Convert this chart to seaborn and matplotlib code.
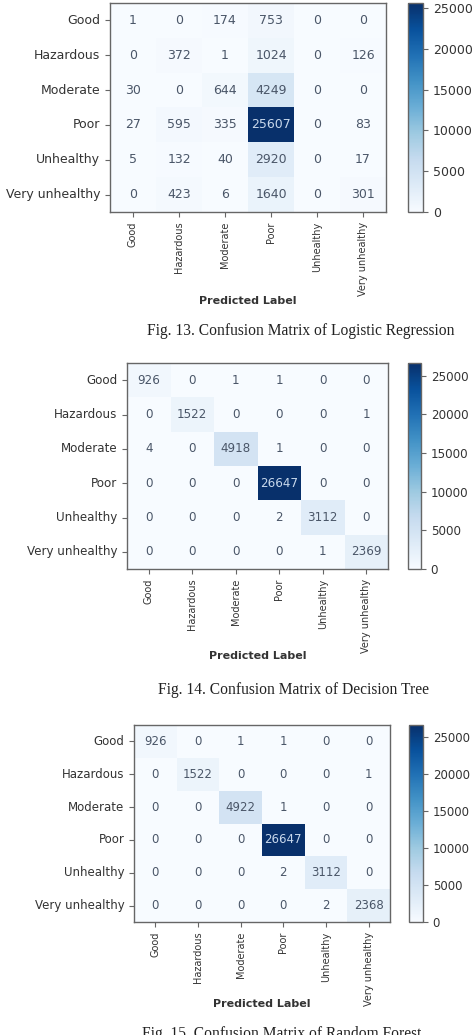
import numpy as np
import pandas as pd
import matplotlib
matplotlib.use("Agg")
import matplotlib.pyplot as plt
import seaborn as sns

LABELS = ['Good', 'Hazardous', 'Moderate', 'Poor', 'Unhealthy', 'Very unhealthy']

# confusion matrices (rows = true label, cols = predicted label)
CM_LOGREG = [
    [1, 0, 174, 753, 0, 0],
    [0, 372, 1, 1024, 0, 126],
    [30, 0, 644, 4249, 0, 0],
    [27, 595, 335, 25607, 0, 83],
    [5, 132, 40, 2920, 0, 17],
    [0, 423, 6, 1640, 0, 301],
]
CM_TREE = [
    [926, 0, 1, 1, 0, 0],
    [0, 1522, 0, 0, 0, 1],
    [4, 0, 4918, 1, 0, 0],
    [0, 0, 0, 26647, 0, 0],
    [0, 0, 0, 2, 3112, 0],
    [0, 0, 0, 0, 1, 2369],
]
CM_FOREST = [
    [926, 0, 1, 1, 0, 0],
    [0, 1522, 0, 0, 0, 1],
    [0, 0, 4922, 1, 0, 0],
    [0, 0, 0, 26647, 0, 0],
    [0, 0, 0, 2, 3112, 0],
    [0, 0, 0, 0, 2, 2368],
]
CAPTIONS = [
    'Fig. 13. Confusion Matrix of Logistic Regression',
    'Fig. 14. Confusion Matrix of Decision Tree',
    'Fig. 15. Confusion Matrix of Random Forest',
]

W, H = 474, 1035

# pixel boxes: heatmap (left, top, right, bottom), colorbar (left, right), label y, caption (x, y, va)
PANELS = [
    dict(cm=CM_LOGREG, hm=(110, 3, 386, 212), cb=(408, 423), lab_y=301, cap=(301, 331, 'center'), fs=9.0),
    dict(cm=CM_TREE, hm=(127, 363, 388, 569), cb=(408, 421), lab_y=656, cap=(293, 690, 'center'), fs=8.6),
    dict(cm=CM_FOREST, hm=(134, 725, 390, 922), cb=(409, 423), lab_y=1004, cap=(282, 1026, 'top'), fs=8.5),
]

TXT = '#333333'
EDGE = '#666666'


def box(l, t, r, b):
    return [l / W, 1 - b / H, (r - l) / W, (b - t) / H]


fig = plt.figure(figsize=(W / 100, H / 100), dpi=100)

for p, caption in zip(PANELS, CAPTIONS):
    l, t, r, b = p['hm']
    fs = p['fs']
    ax = fig.add_axes(box(l, t, r, b))
    cax = fig.add_axes(box(p['cb'][0], t, p['cb'][1], b))
    df = pd.DataFrame(p['cm'], index=LABELS, columns=LABELS)
    vmax = df.values.max()

    sns.heatmap(df, ax=ax, cbar_ax=cax, cmap='Blues', vmin=0, vmax=vmax,
                annot=True, fmt='d', annot_kws={'size': fs})

    # sklearn-like text colouring: dark text on light cells, light on dark
    for txt, val in zip(ax.texts, df.values.flatten()):
        txt.set_color('#c8d8ec' if val > vmax / 2 else '#4a5668')

    for s in ax.spines.values():
        s.set_visible(True)
        s.set_color(EDGE)
        s.set_linewidth(1.0)

    ax.set_yticklabels(LABELS, rotation=0, fontsize=fs, color=TXT)
    ax.set_xticklabels(LABELS, rotation=90, fontsize=7, color=TXT)
    ax.tick_params(axis='both', length=3.5, color=EDGE)
    ax.set_ylabel('')
    ax.set_xlabel('Predicted Label', fontsize=8, color=TXT, fontweight='bold')
    ax.xaxis.label.set_va('center')
    ax.xaxis.set_label_coords(0.5, (b - p['lab_y']) / (b - t))

    cb = ax.collections[0].colorbar
    cb.outline.set_linewidth(1.0)
    cb.outline.set_edgecolor(EDGE)
    cax.tick_params(labelsize=fs, length=3.5, color=EDGE, labelcolor=TXT)

    cx, cy, va = p['cap']
    fig.text(cx / W, 1 - cy / H, caption, ha='center', va=va,
             family='Liberation Serif', fontsize=11.2, color='#222222')

fig.savefig('out.png', dpi=100)
plt.close(fig)
